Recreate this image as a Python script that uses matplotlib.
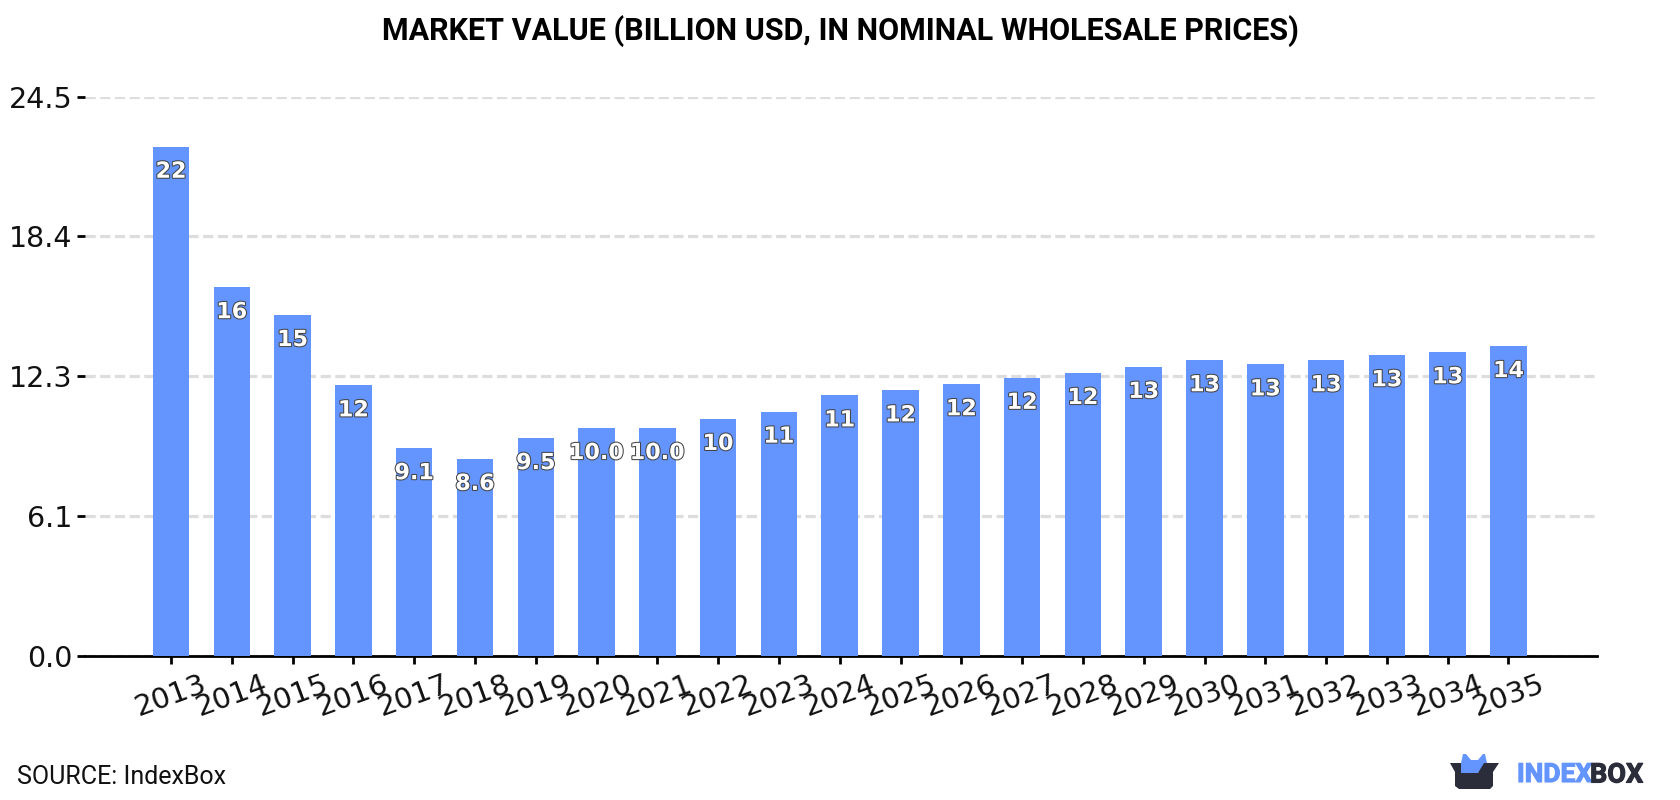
import matplotlib
matplotlib.use("Agg")
import matplotlib.pyplot as plt
import matplotlib.patheffects as pe
from matplotlib.patches import Polygon

years = [str(y) for y in range(2013, 2036)]
values = [22.3, 16.15, 14.93, 11.85, 9.1, 8.63, 9.54, 9.98, 9.98, 10.38, 10.7, 11.41,
          11.63, 11.9, 12.18, 12.39, 12.66, 12.95, 12.77, 12.95, 13.17, 13.3, 13.57]
value_labels = ["22", "16", "15", "12", "9.1", "8.6", "9.5", "10.0", "10.0", "10", "11", "11",
                "12", "12", "12", "12", "13", "13", "13", "13", "13", "13", "14"]
y_ticks = [0.0, 6.125, 12.25, 18.375, 24.5]
y_tick_labels = ["0.0", "6.1", "12.3", "18.4", "24.5"]

BLUE = "#6495ff"
DARK = "#2b2d3a"

W, H = 1680, 800
fig = plt.figure(figsize=(W / 100, H / 100), dpi=100)
ax = fig.add_axes([85 / W, 1 - 656 / H, (1597 - 85) / W, (656 - 96.5) / H])

x = list(range(len(years)))
ax.bar(x, values, width=0.6, color=BLUE, zorder=3)
ax.set_xlim(-1.414, 23.456)
ax.set_ylim(0, 24.5)

ax.set_yticks(y_ticks)
ax.set_yticklabels(y_tick_labels, fontsize=20.5, color="#111111")
ax.set_xticks(x)
ax.set_xticklabels(years, fontsize=21, rotation=20, color="#111111")
ax.tick_params(axis="both", length=6, width=2, color="black", pad=4)
ax.tick_params(axis="y", pad=3)
ax.grid(axis="y", color="#dddddd", linewidth=2.3, linestyle=(0, (3.2, 1.4)), zorder=0)

for side in ("top", "right", "left"):
    ax.spines[side].set_visible(False)
ax.spines["bottom"].set_linewidth(2)

# value labels sit just inside the top of each bar
for xi, v, lab in zip(x, values, value_labels):
    ax.annotate(lab, (xi, v), xytext=(0, -18), textcoords="offset points",
                ha="center", va="center", fontsize=16, fontweight="bold", color="white",
                zorder=5, path_effects=[pe.withStroke(linewidth=1.5, foreground="#444444")])

fig.text(0.5, 1 - 31 / H, "MARKET VALUE (BILLION USD, IN NOMINAL WHOLESALE PRICES)",
         ha="center", va="center", fontsize=22, fontweight="bold", family="Roboto", color="black")
fig.text(17 / W, 1 - 777 / H, "SOURCE: IndexBox", ha="left", va="center",
         fontsize=18, family="Roboto", color="#111111")


# logo: open box with two blue peaks
def px(points):
    return [(a / W, 1 - b / H) for a, b in points]


fig.add_artist(Polygon(px([(1461, 763), (1463, 754), (1466, 754), (1471, 760), (1478, 760), (1483, 754),
                           (1485, 754), (1487, 763), (1478, 773), (1461, 773)]),
                       closed=True, transform=fig.transFigure, color=BLUE, lw=0))
fig.add_artist(Polygon(px([(1450, 763), (1461, 763), (1461, 773), (1478, 773), (1484, 763), (1499, 763),
                           (1493, 772), (1493, 786), (1490, 789), (1459, 789), (1455, 786), (1455, 772)]),
                       closed=True, transform=fig.transFigure, color=DARK, lw=0))
fig.text(1517 / W, 1 - 775 / H, "INDEX", ha="left", va="center", fontsize=19, fontweight="bold",
         family="Roboto", color=BLUE, path_effects=[pe.withStroke(linewidth=0.8, foreground=BLUE)])
fig.text(1590 / W, 1 - 775 / H, "BOX", ha="left", va="center", fontsize=19.5, fontweight="bold",
         family="Roboto", color=DARK, path_effects=[pe.withStroke(linewidth=0.8, foreground=DARK)])

fig.savefig("out.png", dpi=100)
